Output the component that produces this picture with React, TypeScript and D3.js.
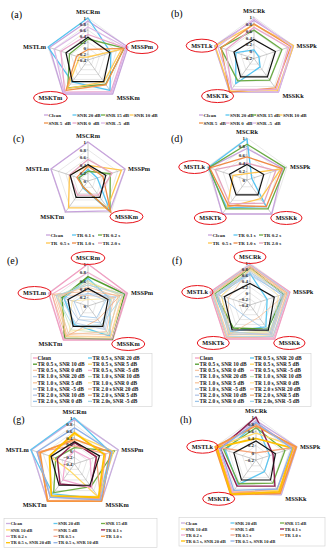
import React from 'react';
import * as d3 from 'd3';

// axis names
const axesM = ["MSCRm", "MSSPm", "MSSKm", "MSKTm", "MSTLm"];
const axesK = ["MSCRk", "MSSPk", "MSSKk", "MSKTk", "MSTLk"];

// series names
const snrNames = ["Clean", "SNR 20 dB", "SNR 15 dB", "SNR 10 dB", "SNR 5  dB", "SNR 0  dB", "SNR -5  dB"];
const trNames = ["Clean", "TR 0.1 s", "TR 0.2 s", "TR  0.5 s", "TR 1.0 s", "TR 2.0 s"];
const mixNames = [
  "Clean", "TR 0.5 s, SNR 20 dB",
  "TR 0.5 s, SNR 10 dB", "TR 0.5 s, SNR 5 dB",
  "TR 0.5 s, SNR 0 dB", "TR 0.5 s, SNR -5 dB",
  "TR 1.0 s, SNR 20 dB", "TR 1.0 s, SNR 10 dB",
  "TR 1.0 s, SNR 5 dB", "TR 1.0 s, SNR 0 dB",
  "TR 1.0 s, SNR -5 dB", "TR 2.0 s SNR 20 dB",
  "TR 2.0 s, SNR 10 dB", "TR 2.0 s, SNR 5 dB",
  "TR 2.0 s, SNR 0 dB", "TR 2.0s, SNR -5 dB",
];
const selNames = [
  "Clean", "SNR 20 dB", "SNR 15 dB",
  "SNR 10 dB", "SNR 5 dB", "TR 0.1 s",
  "TR 0.2 s", "TR 0.5 s", "TR 1.0 s",
  "TR 0.5 s, SNR 20 dB", "TR 0.5 s, SNR 10 dB",
];

// tick values
const ticksA = [-0.4, -0.2, 0, 0.2, 0.4, 0.6, 0.8, 1];
const ticksB = [-0.2, 0, 0.2, 0.4, 0.6, 0.8, 1];
const ticksC = [0, 0.2, 0.4, 0.6, 0.8, 1];

// values, order: MSCR, MSSP, MSSK, MSKT, MSTL
const valuesA = [
  [0.9, 1.0, 1.0, 1.0, 0.95],
  [1.0, 0.4, 0.85, 0.5, 1.0],
  [0.3, 0.87, 0.6, 0.75, 0.25],
  [-0.3, 0.78, 0.5, 0.78, -0.1],
  [-0.05, 0.85, 0.62, 0.85, 0.0],
  [0.45, 0.92, 0.9, 0.92, 0.55],
  [0.7, 0.95, 0.95, 0.96, 0.78],
];
const refA = [0.36, 0.37, 0.49, 0.49, 0.37];

const valuesB = [
  [0.9, 1.0, 1.0, 1.0, 1.0],
  [0.05, -0.05, 0.1, 0.7, 0.35],
  [0.62, 0.65, 0.57, 0.6, 0.82],
  [0.78, 1.0, 0.95, 0.97, 0.98],
  [0.8, 0.92, 0.85, 1.0, 0.8],
  [0.7, 0.85, 0.9, 0.9, 0.65],
  [0.95, 0.95, 1.0, 0.9, 0.9],
];
const refB = [0.35, 0.45, 0.46, 0.46, 0.41];

const valuesC = [
  [1.0, 1.0, 0.95, 0.98, 1.0],
  [0.3, 0.25, 0.98, 0.22, 0.25],
  [0.25, 0.6, 0.96, 0.2, 0.25],
  [0.4, 0.9, 0.85, 0.85, 0.5],
  [0.38, 0.4, 1.0, 0.2, 0.3],
  [0.55, 0.65, 0.45, 0.45, 0.5],
];
const refC = [0.42, 0.48, 0.52, 0.52, 0.48];

const valuesD = [
  [0.75, 0.9, 1.0, 1.0, 0.95],
  [0.98, 0.12, 0.78, 0.82, 0.97],
  [0.85, 0.95, 0.85, 0.85, 0.95],
  [0.15, 0.85, 0.55, 0.8, 0.35],
  [0.55, 0.88, 0.78, 0.75, 0.93],
  [0.4, 0.72, 0.68, 0.7, 0.8],
];
const refD = [0.37, 0.42, 0.44, 0.44, 0.44];

const valuesE = [
  [1.0, 0.98, 1.0, 1.0, 0.98],
  [0.66, 0.55, 0.89, 0.55, 0.6],
  [0.7, 0.92, 0.98, 0.95, 0.65],
  [0.55, 0.88, 0.92, 0.9, 0.7],
  [0.5, 0.85, 0.9, 0.88, 0.75],
  [0.8, 0.95, 0.97, 0.97, 0.9],
  [0.55, 0.6, 0.7, 0.5, 0.7],
  [0.6, 0.8, 0.8, 0.7, 0.75],
  [0.45, 0.75, 0.85, 0.8, 0.8],
  [0.15, 0.6, 0.6, 0.75, 0.4],
  [0.3, 0.7, 0.5, 0.4, 0.6],
  [0.25, 0.65, 0.75, 0.85, 0.85],
  [0.4, 0.55, 0.65, 0.6, 0.5],
  [0.35, 0.8, 0.4, 0.9, 0.9],
  [0.3, 0.45, 0.35, 0.3, 0.35],
  [0.5, 0.9, 0.55, 0.6, 0.8],
];
const refE = [0.42, 0.5, 0.6, 0.6, 0.5];

const valuesF = [
  [0.95, 1.0, 1.0, 1.0, 1.0],
  [0.65, 0.2, 0.5, 0.7, 0.85],
  [0.85, 0.78, 0.6, 0.55, 0.82],
  [0.8, 0.85, 0.7, 0.75, 0.6],
  [0.75, 0.9, 0.8, 0.8, 0.7],
  [0.9, 0.95, 0.95, 0.92, 0.9],
  [0.7, 0.7, 0.6, 0.65, 0.75],
  [0.75, 0.8, 0.7, 0.75, 0.8],
  [0.8, 0.85, 0.75, 0.85, 0.35],
  [0.85, 0.6, 0.85, 0.9, 0.85],
  [0.6, 0.75, 0.8, 0.8, 0.75],
  [0.85, 0.9, 0.1, 0.85, 0.9],
  [0.7, 0.8, 0.85, 0.7, 0.8],
  [0.9, 0.9, 0.9, 0.95, 0.95],
  [0.65, 0.7, 0.75, 0.0, 0.7],
  [0.95, 0.95, 0.9, 0.9, 0.95],
];
const refF = [0.32, 0.45, 0.64, 0.62, 0.5];

const valuesG = [
  [0.95, 1.0, 1.0, 1.0, 0.98],
  [1.0, 0.75, 0.9, 0.72, 1.0],
  [0.1, 0.88, 0.45, 0.68, 0.2],
  [0.5, 0.85, 0.88, -0.15, 0.4],
  [0.3, 0.3, 0.95, 0.98, 0.75],
  [0.25, 0.3, 0.45, 0.35, 0.15],
  [0.0, 0.1, 0.5, 0.2, -0.1],
  [0.15, 0.6, 0.9, 0.85, 0.8],
  [0.35, 0.75, 1.0, 1.0, 0.7],
  [0.55, 0.55, 0.85, 0.8, 0.4],
  [0.7, 0.8, 0.95, 0.85, 0.8],
];
const refG = [0.28, 0.4, 0.4, 0.4, 0.35];

const valuesH = [
  [0.9, 1.0, 1.0, 0.95, 0.95],
  [0.82, 0.2, 0.2, 0.65, 0.7],
  [0.7, 0.65, 0.6, 0.62, 0.75],
  [0.55, 0.98, 0.85, 0.9, 0.98],
  [0.0, 0.95, 0.9, 0.95, 0.95],
  [1.0, 0.3, 0.7, 0.7, 0.85],
  [0.85, 0.9, 0.95, 0.9, 0.9],
  [0.8, 0.92, 0.8, 0.95, 0.95],
  [0.75, 0.98, 0.95, 1.0, 1.0],
  [0.4, 0.88, 0.9, 0.98, 0.95],
  [0.85, 0.85, 0.8, 0.85, 0.85],
];
const refH = [0.33, 0.37, 0.49, 0.49, 0.45];

// colours
const snrColors = ["#c7a3dc", "#55c4f2", "#6aab45", "#ffcb55", "#f0924a", "#eaa6cc", "#dcb8e6"];
const trColors = ["#c7a3dc", "#55c4f2", "#6aab45", "#ffc54d", "#ef8a45", "#e4a3bc"];
const mixColors = [
  "#f19ec2", "#5bc8f0", "#4f9a2c", "#ffd966", "#f6c6a6", "#f2b0cf",
  "#b8cde8", "#c9e2b8", "#f7c49c", "#ffe59a", "#a7c7e7", "#f6c09a",
  "#b4c6e6", "#f4b183", "#9ec5e8", "#9fd6ea",
];
const selColors = [
  "#c9aede", "#5ec6f0", "#70ad47", "#ffd966", "#f4a47a", "#8e1f50",
  "#f3a7d2", "#f5a38a", "#f7963f", "#ffc000", "#8fb0e6",
];

const mixWidths = [1.3, 1.3, 1.6, 0.9, 0.8, 1.1, 0.8, 0.8, 0.8, 0.8, 0.8, 0.8, 0.8, 0.8, 0.8, 0.8];
const selWidths = [1.3, 1.3, 1.3, 1.3, 1.3, 1.4, 1.2, 1.2, 1.6, 1.8, 1.3];

const serif = "'Liberation Serif', 'Times New Roman', serif";

interface Legend {
  x: number; y: number; cols: number; colW: number; rowH: number; font: number;
  frame?: [number, number, number, number];
}
interface Panel {
  id: string; axes: string[]; names: string[]; colors: string[]; widths?: number[];
  values: number[][]; ref: number[]; ticks: number[];
  cx: number; cy: number; r: number; lx: number; ly: number;
  circled: number[]; legend: Legend;
}

const panels: Panel[] = [
  { id: "(a)", axes: axesM, names: snrNames, colors: snrColors, values: valuesA, ref: refA, ticks: ticksA,
    cx: 88, cy: 60, r: 42, lx: 11, ly: 18, circled: [1, 3],
    legend: { x: 44, y: 115, cols: 4, colW: 28.5, rowH: 8, font: 5 } },
  { id: "(b)", axes: axesK, names: snrNames, colors: snrColors, values: valuesB, ref: refB, ticks: ticksB,
    cx: 254, cy: 58.5, r: 41.5, lx: 171, ly: 17, circled: [4, 3],
    legend: { x: 199, y: 115, cols: 4, colW: 26.5, rowH: 8, font: 5 } },
  { id: "(c)", axes: axesM, names: trNames, colors: trColors, values: valuesC, ref: refC, ticks: ticksC,
    cx: 88, cy: 181, r: 39, lx: 13, ly: 142, circled: [2],
    legend: { x: 46, y: 235, cols: 3, colW: 26, rowH: 8, font: 5 } },
  { id: "(d)", axes: axesK, names: trNames, colors: trColors, values: valuesD, ref: refD, ticks: ticksC,
    cx: 247, cy: 180, r: 42, lx: 171, ly: 142, circled: [4, 3, 2],
    legend: { x: 208, y: 235, cols: 3, colW: 25.5, rowH: 8, font: 5 } },
  { id: "(e)", axes: axesM, names: mixNames, colors: mixColors, widths: mixWidths, values: valuesE, ref: refE, ticks: ticksC,
    cx: 88, cy: 306, r: 42, lx: 7, ly: 264, circled: [0, 4, 2],
    legend: { x: 33, y: 358, cols: 2, colW: 55, rowH: 6.2, font: 5.4, frame: [31, 353.5, 121, 53] } },
  { id: "(f)", axes: axesK, names: mixNames, colors: mixColors, widths: mixWidths, values: valuesF, ref: refF, ticks: ticksA,
    cx: 250, cy: 305, r: 42, lx: 172, ly: 264, circled: [0, 4, 3, 2],
    legend: { x: 195, y: 358, cols: 2, colW: 55, rowH: 6.2, font: 5.4, frame: [192, 353.5, 119, 53] } },
  { id: "(g)", axes: axesM, names: selNames, colors: selColors, widths: selWidths, values: valuesG, ref: refG, ticks: ticksA,
    cx: 74.5, cy: 464, r: 46, lx: 13, ly: 423, circled: [],
    legend: { x: 6, y: 523.5, cols: 3, colW: 47.5, rowH: 6.4, font: 4.6, frame: [4, 518.5, 153, 29] } },
  { id: "(h)", axes: axesK, names: selNames, colors: selColors, widths: selWidths, values: valuesH, ref: refH, ticks: ticksB,
    cx: 256, cy: 460, r: 43, lx: 180, ly: 423, circled: [4, 3],
    legend: { x: 181, y: 523, cols: 3, colW: 49.5, rowH: 6, font: 4.6, frame: [179, 517.5, 146, 28.5] } },
];

const angle = (i: number) => (i * 2 * Math.PI) / 5;

let ctx: CanvasRenderingContext2D | null = null;
const textWidth = (s: string, size: number) => {
  if (!ctx) ctx = document.createElement("canvas").getContext("2d");
  if (!ctx) return s.length * size * 0.65;
  ctx.font = `bold ${size}px ${serif}`;
  return ctx.measureText(s).width;
};

const RadarPanel: React.FC<{ p: Panel }> = ({ p }) => {
  const min = p.ticks[0];
  const rScale = d3.scaleLinear().domain([min, 1]).range([0, p.r]);
  const line = d3.lineRadial<number>()
    .angle((_, i) => angle(i))
    .radius(d => rScale(d))
    .curve(d3.curveLinearClosed);
  const vertex = (i: number, r: number) => [r * Math.sin(angle(i)), -r * Math.cos(angle(i))];
  const labFont = 6.3;

  const labels = p.axes.map((name, i) => {
    const [vx, vy] = vertex(i, p.r);
    const w = textWidth(name, labFont);
    let x = vx, y = vy, anchor: "start" | "middle" | "end" = "middle";
    if (i === 0) { y = vy - 4; }
    if (i === 1) { x = vx + 3; y = vy + 2; anchor = "start"; }
    if (i === 2) { x = vx + 4; y = vy + 6; anchor = "start"; }
    if (i === 3) { x = vx - 1; y = vy + 6; anchor = "end"; }
    if (i === 4) { x = vx - 2; y = vy + 2; anchor = "end"; }
    const mid = anchor === "middle" ? x : anchor === "start" ? x + w / 2 : x - w / 2;
    return { name, x, y, anchor, w, mid, i };
  });

  const lg = p.legend;
  return (
    <g>
      <text x={p.lx} y={p.ly} fontSize={10} fontFamily={serif}>{p.id}</text>
      <g transform={`translate(${p.cx},${p.cy})`}>
        {p.ticks.filter(t => t > min).map(t => (
          <path key={t} d={line([t, t, t, t, t]) || ""} fill="none" stroke="#d9d9d9" strokeWidth={0.6} />
        ))}
        {p.axes.map((_, i) => {
          const [x, y] = vertex(i, p.r);
          return <line key={i} x1={0} y1={0} x2={x} y2={y} stroke="#a6a6a6" strokeWidth={0.6} />;
        })}
        {p.values.map((v, k) => (
          <path key={k} d={line(v) || ""} fill="none" stroke={p.colors[k]}
            strokeWidth={p.widths ? p.widths[k] : 1.3} strokeLinejoin="round" />
        ))}
        <path d={line(p.ref) || ""} fill="none" stroke="#111" strokeWidth={1.2} />
        {p.ticks.map(t => (
          <g key={t}>
            <line x1={-1.5} x2={0} y1={-rScale(t)} y2={-rScale(t)} stroke="#888" strokeWidth={0.5} />
            <text x={-2} y={-rScale(t) + 1.8} fontSize={5} fontWeight="bold" fontFamily={serif}
              textAnchor="end" fill="#222">{d3.format("~g")(+t.toFixed(1))}</text>
          </g>
        ))}
        {labels.map(l => (
          <text key={l.name} x={l.x} y={l.y} fontSize={labFont} fontWeight="bold" fontFamily={serif}
            textAnchor={l.anchor} fill="#111">{l.name}</text>
        ))}
        {labels.filter(l => p.circled.includes(l.i)).map(l => (
          <ellipse key={l.name} cx={l.mid} cy={l.y - 2} rx={l.w / 2 + 5} ry={6.5}
            fill="none" stroke="#e8141c" strokeWidth={1} />
        ))}
      </g>
      {lg.frame && (
        <rect x={lg.frame[0]} y={lg.frame[1]} width={lg.frame[2]} height={lg.frame[3]}
          fill="none" stroke="#d0d0d0" strokeWidth={0.6} />
      )}
      {p.names.map((n, k) => {
        const x = lg.x + (k % lg.cols) * lg.colW;
        const y = lg.y + Math.floor(k / lg.cols) * lg.rowH;
        return (
          <g key={n + k}>
            <line x1={x} x2={x + 4} y1={y} y2={y} stroke={p.colors[k]} strokeWidth={1.3} />
            <text x={x + 4.5} y={y + lg.font * 0.35} fontSize={lg.font} fontWeight="bold"
              fontFamily={serif} fill="#222" style={{ whiteSpace: "pre" }}>{n}</text>
          </g>
        );
      })}
    </g>
  );
};

export default function App() {
  return (
    <div style={{ position: "absolute", left: 0, top: 0, background: "#fff" }}>
      <svg width={335} height={550} viewBox="0 0 335 550" style={{ display: "block" }}>
        <rect width={335} height={550} fill="#fff" />
        {panels.map(p => <RadarPanel key={p.id} p={p} />)}
      </svg>
    </div>
  );
}
